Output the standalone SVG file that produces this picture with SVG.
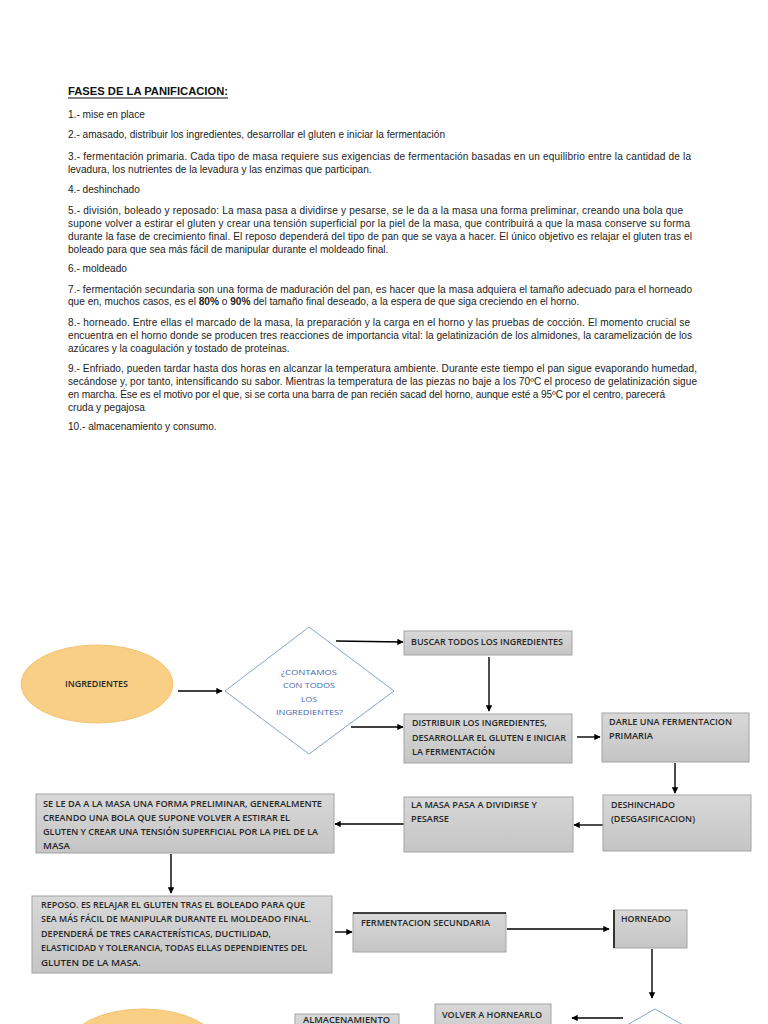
<svg xmlns="http://www.w3.org/2000/svg" width="768" height="1024" viewBox="0 0 768 1024">
<style>
.t{font-family:"Liberation Sans",Arial,sans-serif;font-size:10.1px;fill:#222}
.ttl{font-family:"Liberation Sans",Arial,sans-serif;font-size:11px;font-weight:bold;fill:#111}
.bx{fill:url(#g);stroke:#a3a3a3;stroke-width:1}
.bt{font-family:"Open Sans","Liberation Sans",sans-serif;font-size:8px;font-weight:600;fill:#262626}
.dt{font-family:"Open Sans","Liberation Sans",sans-serif;font-size:8px;fill:#3f66b2}
.el{fill:#f9cf86;stroke:#f3c470;stroke-width:1}
.dm{fill:#fff;stroke:#86a3d6;stroke-width:1}
.cn line{stroke:#000;stroke-width:1.4;marker-end:url(#ah)}
.edge{stroke:#111;stroke-width:1.6}
</style>
<defs>
<linearGradient id="g" x1="0" y1="0" x2="0" y2="1">
<stop offset="0" stop-color="#d8d8d8"/>
<stop offset="1" stop-color="#c5c5c5"/>
</linearGradient>
<marker id="ah" viewBox="0 0 10 10" refX="9" refY="5" markerWidth="4.5" markerHeight="4.5" orient="auto" markerUnits="strokeWidth">
<path d="M0,0 L10,5 L0,10 z" fill="#000"/>
</marker>
</defs>
<rect width="768" height="1024" fill="#fff"/>

<g id="text-block">
<text class="ttl" x="68" y="95" textLength="160" lengthAdjust="spacingAndGlyphs">FASES DE LA PANIFICACION:</text>
<line x1="68" y1="98" x2="228" y2="98" stroke="#111" stroke-width="1"/>
<text class="t" x="68" y="118">1.- mise en place</text>
<text class="t" x="68" y="138">2.- amasado, distribuir los ingredientes, desarrollar el gluten e iniciar la fermentación</text>
<text class="t" x="68" y="160" textLength="623" lengthAdjust="spacing">3.- fermentación primaria. Cada tipo de masa requiere sus exigencias de fermentación basadas en un equilibrio entre la cantidad de la</text>
<text class="t" x="68" y="173">levadura, los nutrientes de la levadura y las enzimas que participan.</text>
<text class="t" x="68" y="193">4.- deshinchado</text>
<text class="t" x="68" y="214" textLength="615" lengthAdjust="spacing">5.-  división, boleado y reposado: La masa pasa a dividirse y pesarse, se le da a la masa una forma preliminar, creando una bola que</text>
<text class="t" x="68" y="227" textLength="622" lengthAdjust="spacing">supone volver a estirar el gluten y crear una tensión superficial por la piel de la masa, que contribuirá a que la masa conserve su forma</text>
<text class="t" x="68" y="240" textLength="624" lengthAdjust="spacing">durante la fase de crecimiento final. El reposo dependerá del tipo de pan que se vaya a hacer. El único objetivo es relajar el gluten tras el</text>
<text class="t" x="68" y="253">boleado para que sea más fácil de manipular durante el moldeado final.</text>
<text class="t" x="68" y="272">6.- moldeado</text>
<text class="t" x="68" y="293" textLength="624" lengthAdjust="spacing">7.-  fermentación secundaria son una forma de maduración del pan, es hacer que la masa adquiera el tamaño adecuado para el horneado</text>
<text class="t" x="68" y="305">que en, muchos casos, es el <tspan font-weight="bold">80%</tspan> o <tspan font-weight="bold">90%</tspan> del tamaño final deseado, a la espera de que siga creciendo en el horno.</text>
<text class="t" x="68" y="326" textLength="622" lengthAdjust="spacing">8.-  horneado. Entre ellas el marcado de la masa, la preparación y la carga en el horno y las pruebas de cocción. El momento crucial se</text>
<text class="t" x="68" y="339" textLength="624" lengthAdjust="spacing">encuentra en el horno donde se producen tres reacciones de importancia vital: la gelatinización de los almidones, la caramelización de los</text>
<text class="t" x="68" y="352">azúcares y la coagulación y tostado de proteínas.</text>
<text class="t" x="68" y="372" textLength="629" lengthAdjust="spacing">9.-  Enfriado, pueden tardar hasta dos horas en alcanzar la temperatura ambiente. Durante este tiempo el pan sigue evaporando humedad,</text>
<text class="t" x="68" y="385" textLength="629" lengthAdjust="spacing">secándose y, por tanto, intensificando su sabor. Mientras la temperatura de las piezas no baje a los 70ºC el proceso de gelatinización sigue</text>
<text class="t" x="68" y="398" textLength="597" lengthAdjust="spacing">en marcha. Ése es el motivo por el que, si se corta una barra de pan recién sacad del horno, aunque esté a 95ºC por el centro, parecerá</text>
<text class="t" x="68" y="411">cruda y pegajosa</text>
<text class="t" x="68" y="430">10.- almacenamiento y consumo.</text>
</g>

<g id="connectors" class="cn">
<line x1="178" y1="691" x2="222" y2="691"/>
<line x1="336" y1="641" x2="403" y2="642"/>
<line x1="351" y1="727" x2="403" y2="727"/>
<line x1="489" y1="657" x2="489" y2="711"/>
<line x1="577" y1="737" x2="600" y2="737"/>
<line x1="675" y1="763" x2="675" y2="793"/>
<line x1="603" y1="825" x2="574" y2="825"/>
<line x1="404" y1="824" x2="335" y2="824"/>
<line x1="171" y1="854" x2="171" y2="893"/>
<line x1="335" y1="932" x2="352" y2="932"/>
<line x1="507" y1="929" x2="609" y2="929"/>
<line x1="652" y1="949" x2="652" y2="998"/>
<line x1="623" y1="1018" x2="572" y2="1018"/>
</g>

<g id="n-ingredientes">
<ellipse class="el" cx="97" cy="684" rx="76" ry="39"/>
<text class="bt" x="65" y="687" textLength="63" lengthAdjust="spacingAndGlyphs">INGREDIENTES</text>
</g>

<g id="n-contamos">
<polygon class="dm" points="309,627 394,691 309,754 225,691"/>
<text class="dt" x="281" y="675" textLength="56" lengthAdjust="spacingAndGlyphs">¿CONTAMOS</text>
<text class="dt" x="283" y="688" textLength="52" lengthAdjust="spacingAndGlyphs">CON TODOS</text>
<text class="dt" x="301" y="702" textLength="16" lengthAdjust="spacingAndGlyphs">LOS</text>
<text class="dt" x="276" y="715" textLength="67" lengthAdjust="spacingAndGlyphs">INGREDIENTES?</text>
</g>

<g id="n-buscar">
<rect class="bx" x="404" y="631" width="168" height="24"/>
<text class="bt" x="411" y="645" textLength="152" lengthAdjust="spacingAndGlyphs">BUSCAR TODOS LOS INGREDIENTES</text>
</g>

<g id="n-distribuir">
<rect class="bx" x="404" y="714" width="168" height="49"/>
<text class="bt" x="412" y="726" textLength="135" lengthAdjust="spacingAndGlyphs">DISTRIBUIR LOS INGREDIENTES,</text>
<text class="bt" x="412" y="741" textLength="154" lengthAdjust="spacingAndGlyphs">DESARROLLAR EL GLUTEN E INICIAR</text>
<text class="bt" x="412" y="755" textLength="83" lengthAdjust="spacingAndGlyphs">LA FERMENTACIÓN</text>
</g>

<g id="n-darle">
<rect class="bx" x="602" y="713" width="147" height="49"/>
<text class="bt" x="609" y="725" textLength="123" lengthAdjust="spacingAndGlyphs">DARLE UNA FERMENTACION</text>
<text class="bt" x="609" y="739" textLength="44" lengthAdjust="spacingAndGlyphs">PRIMARIA</text>
</g>

<g id="n-deshinchado">
<rect class="bx" x="603" y="795" width="148" height="56"/>
<text class="bt" x="611" y="808" textLength="64" lengthAdjust="spacingAndGlyphs">DESHINCHADO</text>
<text class="bt" x="611" y="822" textLength="84" lengthAdjust="spacingAndGlyphs">(DESGASIFICACION)</text>
</g>

<g id="n-lamasa">
<rect class="bx" x="404" y="797" width="169" height="55"/>
<text class="bt" x="411" y="808" textLength="126" lengthAdjust="spacingAndGlyphs">LA MASA PASA A DIVIDIRSE Y</text>
<text class="bt" x="411" y="822" textLength="38" lengthAdjust="spacingAndGlyphs">PESARSE</text>
</g>

<g id="n-seleda">
<rect class="bx" x="36" y="794" width="298" height="59"/>
<text class="bt" x="43" y="807" textLength="279" lengthAdjust="spacingAndGlyphs">SE LE DA A LA MASA UNA FORMA PRELIMINAR, GENERALMENTE</text>
<text class="bt" x="43" y="821" textLength="247" lengthAdjust="spacingAndGlyphs">CREANDO UNA BOLA QUE SUPONE VOLVER A ESTIRAR EL</text>
<text class="bt" x="43" y="835" textLength="275" lengthAdjust="spacingAndGlyphs">GLUTEN Y CREAR UNA TENSIÓN SUPERFICIAL POR LA PIEL DE LA</text>
<text class="bt" x="43" y="849" textLength="27" lengthAdjust="spacingAndGlyphs">MASA</text>
</g>

<g id="n-reposo">
<rect class="bx" x="32" y="896" width="300" height="77"/>
<text class="bt" x="41" y="908" textLength="264" lengthAdjust="spacingAndGlyphs">REPOSO. ES RELAJAR EL GLUTEN TRAS EL BOLEADO PARA QUE</text>
<text class="bt" x="41" y="922" textLength="270" lengthAdjust="spacingAndGlyphs">SEA MÁS FÁCIL DE MANIPULAR DURANTE EL MOLDEADO FINAL.</text>
<text class="bt" x="41" y="937" textLength="230" lengthAdjust="spacingAndGlyphs">DEPENDERÁ DE TRES CARACTERÍSTICAS, DUCTILIDAD,</text>
<text class="bt" x="41" y="951" textLength="266" lengthAdjust="spacingAndGlyphs">ELASTICIDAD Y TOLERANCIA, TODAS ELLAS DEPENDIENTES DEL</text>
<text class="bt" x="41" y="966" textLength="100" lengthAdjust="spacingAndGlyphs">GLUTEN DE LA MASA.</text>
</g>

<g id="n-fermsec">
<rect class="bx" x="353" y="913" width="153" height="39"/>
<line class="edge" x1="353" y1="913" x2="506" y2="913"/>
<text class="bt" x="361" y="926" textLength="129" lengthAdjust="spacingAndGlyphs">FERMENTACION SECUNDARIA</text>
</g>

<g id="n-horneado">
<rect class="bx" x="614" y="910" width="73" height="38"/>
<line class="edge" x1="614" y1="910" x2="614" y2="948"/>
<text class="bt" x="621" y="922" textLength="50" lengthAdjust="spacingAndGlyphs">HORNEADO</text>
</g>

<g id="n-decision2">
<polygon class="dm" points="655,1009 725,1049 655,1089 585,1049"/>
</g>

<g id="n-volver">
<rect class="bx" x="435" y="1004" width="116" height="40"/>
<text class="bt" x="442" y="1018" textLength="100" lengthAdjust="spacingAndGlyphs">VOLVER A HORNEARLO</text>
</g>

<g id="n-almacenamiento">
<rect class="bx" x="295" y="1014" width="104" height="40"/>
<text class="bt" x="303" y="1023" textLength="87" lengthAdjust="spacingAndGlyphs">ALMACENAMIENTO</text>
</g>

<g id="n-ellipse2">
<ellipse class="el" cx="143" cy="1048" rx="76" ry="39"/>
</g>
</svg>
